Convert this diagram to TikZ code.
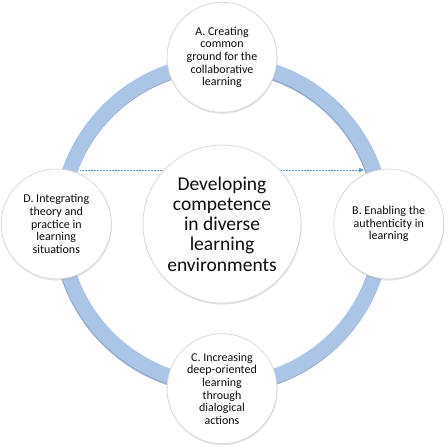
\documentclass[tikz,border=0pt]{standalone}
\usepackage{fontspec}
\setmainfont{Carlito}
\usepackage{tikz}
\usetikzlibrary{arrows.meta}
\usetikzlibrary{positioning,shadows}

\definecolor{ringblue}{RGB}{171,197,230}
\definecolor{ringedge}{RGB}{150,170,200}
\definecolor{dotblue}{RGB}{91,155,213}
\definecolor{rimgray}{RGB}{212,212,212}
\pgfdeclareradialshading{bubbleshade}{\pgfpoint{0bp}{6bp}}{color(0bp)=(white); color(30bp)=(white); color(50bp)=(black!14)}

\begin{document}
\begin{tikzpicture}[x=1pt,y=1pt,
	bubble/.style={circle, shade, shading=bubbleshade, draw=rimgray, line width=0.7pt, inner sep=0pt, align=center, text=black!95,
		drop shadow={opacity=0.2, shadow xshift=0.6pt, shadow yshift=-1.6pt},
		font=\fontsize{12}{12.6}\selectfont, minimum size=110pt}]
		\useasboundingbox (0,0) rectangle (448,448);
		%%ring
		\coordinate (hub) at (222,224);
		\draw[ringedge, line width=15pt] ([xshift=-0.7pt, yshift=-1.4pt]hub) circle (161);
		\draw[ringblue, line width=15pt] (hub) circle (161);
		%%dotted arrow
		\coordinate (dotstart) at (80,278);
		\coordinate (dotend) at (364,278);
		\draw[-{Triangle[length=5pt, width=4.5pt]}, dotblue, densely dotted, line width=0.5pt] (dotstart) -- (dotend);
		%%nodes
		\node[bubble, minimum size=158pt, font=\fontsize{19.5}{20.3}\selectfont] (centre) at (hub) {Developing\\competence\\in diverse\\learning\\environments};
		\node[bubble, above=32pt of centre] (create) {A. Creating\\common\\ground for the\\collaborative\\learning};
		\node[bubble, right=32pt of centre] (enable) {B. Enabling the\\authenticity in\\learning};
		\node[bubble, below=30pt of centre] (increase) {C. Increasing\\deep-oriented\\learning\\through\\dialogical\\actions};
		\node[bubble, left=31pt of centre] (integrate) {D. Integrating\\theory and\\practice in\\learning\\situations};
	\end{tikzpicture}
\end{document}
